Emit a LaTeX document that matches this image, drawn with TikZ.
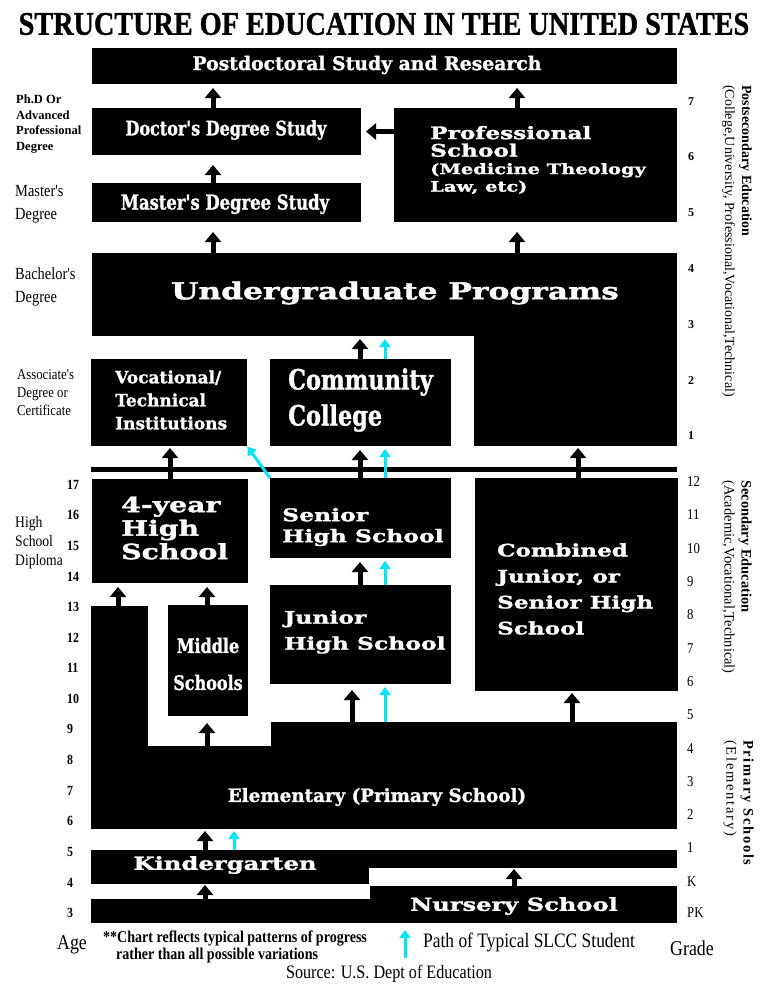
\documentclass[tikz,border=0pt]{standalone}
\usepackage{fontspec}
\setmainfont{Liberation Serif}
\newfontfamily\slabfont{DejaVu Serif Bold}[FakeBold=1.2]
\newfontfamily\slabwide{DejaVu Serif Bold}[FakeStretch=1.35, FakeBold=1.6]
\newfontfamily\slabnarrow{DejaVu Serif Bold}[FakeStretch=0.8, FakeBold=1.2]
\newfontfamily\condfont{Liberation Serif}[FakeStretch=0.85]
\newfontfamily\titlefont{Liberation Serif Bold}[FakeStretch=0.855, FakeBold=1]
\newfontfamily\spacedfont{Liberation Serif}[LetterSpace=12]
\usetikzlibrary{arrows.meta}

\definecolor{slcc}{RGB}{0,228,250}

\tikzstyle{box} = [rectangle, fill=black, inner sep=0pt, outer sep=0pt, anchor=north west]
\tikzstyle{boxtext} = [text=white, inner sep=0pt, align=left]
\tikzstyle{arrow} = [line width=5pt, -{Triangle[width=16pt,length=10pt]}, shorten >=4pt]
\tikzstyle{slccarrow} = [color=slcc, line width=3pt, -{Triangle[width=11pt,length=8pt]}, shorten >=3pt]
\tikzstyle{agenum} = [anchor=west, inner sep=0pt, font=\condfont\bfseries\fontsize{14}{14}\selectfont]
\tikzstyle{gradenum} = [anchor=west, inner sep=0pt, font=\bfseries\fontsize{12}{12}\selectfont]
\tikzstyle{gradenum2} = [anchor=west, inner sep=0pt, font=\condfont\fontsize{15}{15}\selectfont]
\tikzstyle{sidelabel} = [anchor=west, inner sep=0pt, align=left]
\tikzstyle{sidehead} = [rotate=-90, anchor=north west, inner sep=0pt, align=left]

\begin{document}
\begin{tikzpicture}[x=1pt, y=-1pt]
\useasboundingbox (0,0) rectangle (768,994);
\fill[white] (0,0) rectangle (768,994);

\node (title) [font=\titlefont\fontsize{33}{33}\selectfont] at (384,24) {STRUCTURE OF EDUCATION IN THE UNITED STATES};

% postsecondary
\node (postdoc) [box, minimum width=585pt, minimum height=36pt] at (92,48) {};
\node (doctor) [box, minimum width=269pt, minimum height=47pt] at (92,108) {};
\node (master) [box, minimum width=269pt, minimum height=39pt] at (92,183) {};
\node (prof) [box, minimum width=283pt, minimum height=114pt] at (394,108) {};
\node (undergrad) [box, minimum width=585pt, minimum height=83pt] at (92,253) {};
\node (undergrad-r) [box, minimum width=203pt, minimum height=111pt] at (474,335) {};
\node (voc) [box, minimum width=156pt, minimum height=87pt] at (91,359) {};
\node (cc) [box, minimum width=181pt, minimum height=87pt] at (270,359) {};
\node (bar) [box, minimum width=586pt, minimum height=5pt] at (91,467) {};

% secondary
\node (hs4) [box, minimum width=156pt, minimum height=104pt] at (92,479) {};
\node (senior) [box, minimum width=181pt, minimum height=80pt] at (270,478) {};
\node (combined) [box, minimum width=203pt, minimum height=213pt] at (475,478) {};
\node (junior) [box, minimum width=181pt, minimum height=99pt] at (270,585) {};
\node (middle) [box, minimum width=80pt, minimum height=111pt] at (168,605) {};

% primary
\node (elem-l) [box, minimum width=57pt, minimum height=141pt] at (91,606) {};
\node (elem-r) [box, minimum width=406pt, minimum height=25pt] at (271,722) {};
\node (elem) [box, minimum width=586pt, minimum height=83pt] at (91,746) {};
\node (kinder) [box, minimum width=586pt, minimum height=18pt] at (91,850) {};
\node (kinder-l) [box, minimum width=278pt, minimum height=17pt] at (91,867) {};
\node (nursery-r) [box, minimum width=307pt, minimum height=37pt] at (370,886) {};
\node (nursery) [box, minimum width=280pt, minimum height=24pt] at (91,899) {};

% box texts
\node (postdoc-t) [boxtext, font=\slabfont\fontsize{18.8}{20}\selectfont] at (367,65) {Postdoctoral Study and Research};
\node (doctor-t) [boxtext, font=\slabnarrow\fontsize{20}{22}\selectfont] at (226,130) {Doctor's Degree Study};
\node (master-t) [boxtext, font=\slabnarrow\fontsize{20.5}{22}\selectfont] at (225,204) {Master's Degree Study};
\node (prof-t) [boxtext, anchor=west, font=\slabwide\fontsize{14.4}{17.5}\selectfont] at (430,160) {{\fontsize{17.2}{19}\selectfont Professional}\\{\fontsize{17.2}{19}\selectfont School}\\(Medicine Theology\\Law, etc)};
\node (undergrad-t) [boxtext, font=\slabwide\fontsize{23.2}{26}\selectfont] at (395,293) {Undergraduate Programs};
\node (voc-t) [boxtext, anchor=west, font=\slabfont\fontsize{17}{23}\selectfont] at (115,400) {Vocational/\\Technical\\Institutions};
\node (cc-t) [boxtext, anchor=west, font=\slabnarrow\fontsize{28}{36}\selectfont] at (288,400) {Community\\College};
\node (hs4-t) [boxtext, anchor=west, font=\slabwide\fontsize{21}{23.5}\selectfont] at (121,528) {4-year\\High\\School};
\node (senior-t) [boxtext, anchor=west, font=\slabwide\fontsize{17.4}{21}\selectfont] at (282,527) {Senior\\High School};
\node (junior-t) [boxtext, anchor=west, font=\slabwide\fontsize{17.4}{26}\selectfont] at (284,632) {Junior\\High School};
\node (middle-t) [boxtext, align=center, font=\slabnarrow\fontsize{20}{37}\selectfont] at (208,664) {Middle\\Schools};
\node (combined-t) [boxtext, anchor=west, font=\slabwide\fontsize{17.1}{26}\selectfont] at (497,589) {Combined\\Junior, or\\Senior High\\School};
\node (elem-t) [boxtext, font=\slabfont\fontsize{18.3}{20}\selectfont] at (377,797) {Elementary (Primary School)};
\node (kinder-t) [boxtext, font=\slabwide\fontsize{18}{20}\selectfont] at (225,865) {Kindergarten};
\node (nursery-t) [boxtext, font=\slabwide\fontsize{17.9}{20}\selectfont] at (514,906) {Nursery School};

% arrow columns
\coordinate (cgrad) at (213,0);
\coordinate (cprof) at (517,0);
\coordinate (cvoc) at (170,0);
\coordinate (chs) at (118,0);
\coordinate (cmid) at (207,0);
\coordinate (ccc) at (360,0);
\coordinate (cjr) at (352,0);
\coordinate (cslcc) at (385,0);
\coordinate (ccomb) at (578,0);
\coordinate (celem) at (572,0);
\coordinate (ckg) at (205,0);
\coordinate (ckgslcc) at (234,0);
\coordinate (cnur) at (514,0);

\draw [arrow] (doctor.north -| cgrad) -- (postdoc.south -| cgrad);
\draw [arrow] (prof.north -| cprof) -- (postdoc.south -| cprof);
\draw [arrow, shorten >=10pt] (master.north -| cgrad) -- (doctor.south -| cgrad);
\draw [arrow, shorten >=10pt] (undergrad.north -| cgrad) -- (master.south -| cgrad);
\draw [arrow, shorten >=10pt] (undergrad.north -| cprof) -- (prof.south -| cprof);
\draw [arrow, shorten >=5pt] (prof.west |- doctor.east) -- (doctor.east);
\draw [arrow, shorten >=3pt] (cc.north -| ccc) -- (undergrad.south -| ccc);
\draw [slccarrow] (cc.north -| cslcc) -- (undergrad.south -| cslcc);
\draw [arrow, shorten >=2pt] (hs4.north -| cvoc) -- (voc.south -| cvoc);
\draw [arrow] (senior.north -| ccc) -- (cc.south -| ccc);
\draw [slccarrow] (senior.north -| cslcc) -- (cc.south -| cslcc);
\draw [arrow, shorten >=2pt] (combined.north -| ccomb) -- (undergrad-r.south -| ccomb);
\draw [arrow] (junior.north -| ccc) -- (senior.south -| ccc);
\draw [slccarrow] (junior.north -| cslcc) -- (senior.south -| cslcc);
\draw [arrow, shorten >=6pt] (elem-r.north -| cjr) -- (junior.south -| cjr);
\draw [slccarrow] (elem-r.north -| cslcc) -- (junior.south -| cslcc);
\draw [arrow] (elem-l.north -| chs) -- (hs4.south -| chs);
\draw [arrow] (middle.north -| cmid) -- (hs4.south -| cmid);
\draw [arrow, shorten >=7pt] (elem.north -| cmid) -- (middle.south -| cmid);
\draw [arrow, shorten >=2pt] (elem-r.north -| celem) -- (combined.south -| celem);
\draw [arrow, shorten >=2pt] (kinder.north -| ckg) -- (elem.south -| ckg);
\draw [slccarrow, shorten >=2pt] (kinder.north -| ckgslcc) -- (elem.south -| ckgslcc);
\draw [arrow, shorten >=1pt] (nursery.north -| ckg) -- (kinder-l.south -| ckg);
\draw [arrow, shorten >=1pt] (nursery-r.north -| cnur) -- (kinder.south -| cnur);
\draw [slccarrow, shorten >=1pt] (senior.north west) -- (voc.south east);

% ages
\foreach \a in {3,...,17}
  \node (age\a) [agenum] at (67,{913-(\a-3)*30.6}) {\a};

% grades
\foreach \g in {1,...,7}
  \node (pgrade\g) [gradenum] at (688,{436-(\g-1)*55.8}) {\g};
\foreach \g in {1,...,12}
  \node (sgrade\g) [gradenum2] at (687,{848-(\g-1)*33.3}) {\g};
\node (gradek) [gradenum2] at (687,882) {K};
\node (gradepk) [gradenum2] at (687,913) {PK};

% left labels
\node (lphd) [sidelabel, font=\bfseries\fontsize{12.5}{15.5}\selectfont] at (16,124) {Ph.D Or\\Advanced\\Professional\\Degree};
\node (lmaster) [sidelabel, font=\condfont\fontsize{17}{23}\selectfont] at (15,204) {Master's\\Degree};
\node (lbach) [sidelabel, font=\condfont\fontsize{17}{23}\selectfont] at (15,287) {Bachelor's\\Degree};
\node (lassoc) [sidelabel, font=\condfont\fontsize{15}{18}\selectfont] at (17,393) {Associate's\\Degree or\\Certificate};
\node (ldiploma) [sidelabel, font=\condfont\fontsize{16}{19}\selectfont] at (15,543) {High\\School\\Diploma};

% right labels
\node (rpost) [sidehead, font=\fontsize{14}{17}\selectfont] at (752,85) {\textbf{Postsecondary Education}\\(College,University, Professional,Vocational,Technical)};
\node (rsec) [sidehead, font=\fontsize{14.5}{17}\selectfont] at (752,480) {\textbf{Secondary Education}\\(Academic,Vocational,Technical)};
\node (rprim) [sidehead, font=\spacedfont\fontsize{14.5}{17}\selectfont] at (754,740) {\textbf{Primary Schools}\\(Elementary)};

% footer
\coordinate (legtail) at (405,958);
\coordinate (leghead) at (405,930);
\draw [slccarrow, shorten >=0pt] (legtail) -- (leghead);
\node (agelabel) [font=\condfont\fontsize{21}{21}\selectfont] at (72,945) {Age};
\node (note) [sidelabel, font=\condfont\bfseries\fontsize{16.5}{17}\selectfont] at (103,947) {**Chart reflects typical patterns of progress\\\hspace*{13pt}rather than all possible variations};
\node (legend) [sidelabel, font=\condfont\fontsize{20.5}{20.5}\selectfont] at (423,942) {Path of Typical SLCC Student};
\node (gradelabel) [font=\condfont\fontsize{21}{21}\selectfont] at (692,948) {Grade};
\node (source) [font=\condfont\fontsize{19}{19}\selectfont] at (389,974) {Source: U.S. Dept of Education};

\end{tikzpicture}
\end{document}
